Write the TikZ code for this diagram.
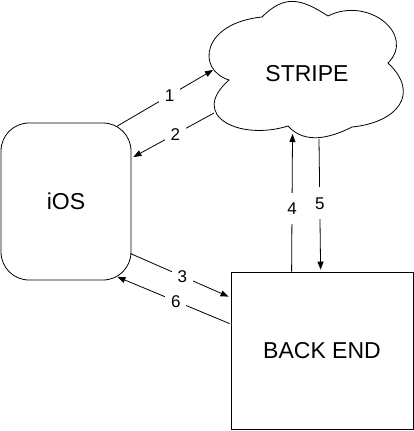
\documentclass[tikz,border=0pt]{standalone}
\usepackage{fontspec}
\setmainfont{Liberation Sans}
\usetikzlibrary{calc,arrows.meta}
\begin{document}
\begin{tikzpicture}[x=1pt,y=-1pt,line width=0.8pt,
  bigtext/.style={font=\fontsize{23}{27}\selectfont},
  arr/.style={-{Triangle[length=8pt,width=6pt]}},
  lbl/.style={fill=white,inner xsep=6pt,inner ysep=9.5pt,text height=12.2pt,text depth=0pt,font=\fontsize{17}{20}\selectfont}]
\useasboundingbox (0,0) rectangle (414,431);
% nodes
\node[draw,rounded corners=28pt,minimum width=130pt,minimum height=157pt,bigtext] (ios) at (66,201.5) {iOS};
\node[draw,minimum width=182pt,minimum height=157pt,bigtext] (backend) at (322,350.5) {BACK END};
% cloud
\draw (262,17) .. controls (284.6,-5.6) and (301,-1.6) .. (328,16)
  .. controls (368,-4.25) and (416.3,34.7) .. (388,63)
  .. controls (421,94) and (397,122.5) .. (352,127)
  .. controls (329.75,138.25) and (304.75,144.5) .. (288,126)
  .. controls (240.5,141) and (187.75,116.3) .. (229,80)
  .. controls (195.75,69.5) and (202,23) .. cycle;
\node[bigtext] (stripe) at (307,73.5) {STRIPE};
\coordinate (cl1) at (213,70);
\coordinate (cl2) at (214,113);
\coordinate (cl4) at (292.5,134);
\coordinate (cl5) at (319,139);
% connectors
\draw[arr] ($(ios.north east)+(-15,4)$) -- node[lbl,pos=0.55] (l1) {1} (cl1);
\draw[arr] (cl2) -- node[lbl,pos=0.48] (l2) {2} ($(ios.east)+(2,-44.5)$);
\draw[arr] ($(ios.east)+(-1,52)$) -- node[lbl,pos=0.53] (l3) {3} ($(backend.north west)+(-2,25)$);
\draw[arr] ($(backend.north west)+(-1,52)$) -- node[lbl,pos=0.48] (l6) {6} ($(ios.south east)+(-14,-3.5)$);
\draw[arr] ($(backend.north west)+(61,0)$) -- node[lbl,pos=0.46] (l4) {4} (cl4);
\draw[arr] (cl5) -- node[lbl,pos=0.49] (l5) {5} ($(backend.north west)+(90,-2)$);
\end{tikzpicture}
\end{document}
